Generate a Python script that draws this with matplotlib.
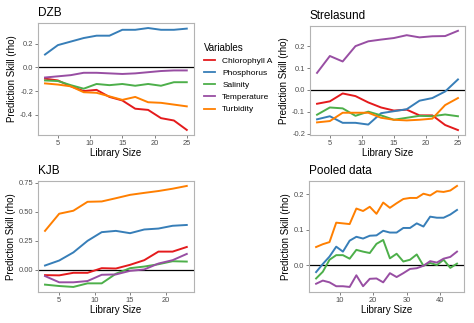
import matplotlib.pyplot as plt
from matplotlib.lines import Line2D

plt.rcParams['font.family'] = ['Liberation Sans', 'DejaVu Sans']

# colours (ColorBrewer Set1)
colors = {
    'Chlorophyll A': '#E41A1C',
    'Phosphorus': '#377EB8',
    'Salinity': '#4DAF4A',
    'Temperature': '#984EA3',
    'Turbidity': '#FF7F00',
}

# DZB
dzb_x = [3, 5, 7, 9, 11, 13, 15, 17, 19, 21, 23, 25]
dzb_chl = [-0.095, -0.11, -0.16, -0.20, -0.19, -0.25, -0.28, -0.35, -0.36, -0.43, -0.45, -0.53]
dzb_pho = [0.11, 0.19, 0.22, 0.25, 0.27, 0.27, 0.32, 0.32, 0.335, 0.32, 0.32, 0.33]
dzb_sal = [-0.11, -0.115, -0.15, -0.18, -0.14, -0.15, -0.14, -0.155, -0.14, -0.155, -0.125, -0.125]
dzb_tem = [-0.085, -0.075, -0.065, -0.045, -0.045, -0.05, -0.055, -0.05, -0.04, -0.03, -0.025, -0.025]
dzb_tur = [-0.135, -0.145, -0.16, -0.21, -0.215, -0.245, -0.275, -0.25, -0.295, -0.30, -0.315, -0.33]

# Strelasund
str_x = [3, 5, 7, 9, 11, 13, 15, 17, 19, 21, 23, 25]
str_chl = [-0.063, -0.052, -0.016, -0.028, -0.057, -0.08, -0.094, -0.09, -0.116, -0.116, -0.16, -0.183]
str_pho = [-0.134, -0.12, -0.15, -0.15, -0.158, -0.106, -0.097, -0.088, -0.049, -0.037, -0.007, 0.048]
str_sal = [-0.113, -0.08, -0.084, -0.118, -0.099, -0.116, -0.136, -0.127, -0.118, -0.12, -0.112, -0.12]
str_tem = [0.078, 0.155, 0.13, 0.20, 0.222, 0.23, 0.237, 0.25, 0.24, 0.245, 0.246, 0.27]
str_tur = [-0.148, -0.142, -0.104, -0.104, -0.104, -0.127, -0.136, -0.139, -0.136, -0.131, -0.069, -0.037]

# KJB
kjb_x = [3, 5, 7, 9, 11, 13, 15, 17, 19, 21, 23]
kjb_chl = [-0.046, -0.048, -0.026, -0.026, 0.014, 0.011, 0.043, 0.083, 0.157, 0.157, 0.197]
kjb_pho = [0.037, 0.08, 0.15, 0.25, 0.325, 0.336, 0.316, 0.348, 0.356, 0.38, 0.387]
kjb_sal = [-0.128, -0.14, -0.148, -0.117, -0.117, -0.034, 0.014, 0.028, 0.048, 0.074, 0.071]
kjb_tem = [-0.054, -0.108, -0.108, -0.097, -0.043, -0.04, -0.009, 0.003, 0.054, 0.083, 0.137]
kjb_tur = [0.336, 0.484, 0.51, 0.587, 0.59, 0.618, 0.647, 0.664, 0.68, 0.70, 0.724]

# Pooled data (no chlorophyll)
poo_x = list(range(3, 46, 2))
poo_pho = [-0.02, 0.003, 0.024, 0.052, 0.038, 0.069, 0.08, 0.075, 0.083, 0.084, 0.097,
           0.092, 0.092, 0.105, 0.105, 0.118, 0.109, 0.137, 0.134, 0.134, 0.143, 0.156]
poo_sal = [-0.038, -0.019, 0.015, 0.028, 0.028, 0.018, 0.043, 0.038, 0.034, 0.06, 0.071,
           0.019, 0.032, 0.01, 0.015, 0.03, -0.002, 0.006, 0.0, 0.015, -0.008, 0.004]
poo_tem = [-0.053, -0.044, -0.049, -0.06, -0.06, -0.062, -0.029, -0.06, -0.039, -0.038, -0.049,
           -0.023, -0.034, -0.023, -0.011, -0.009, -0.002, 0.011, 0.007, 0.018, 0.023, 0.038]
poo_tur = [0.051, 0.059, 0.065, 0.12, 0.118, 0.116, 0.16, 0.153, 0.165, 0.145, 0.177,
           0.162, 0.175, 0.187, 0.19, 0.19, 0.202, 0.197, 0.209, 0.207, 0.211, 0.224]

panels = [
    ('DZB', [0.080, 0.582, 0.329, 0.347], dzb_x,
     {'Chlorophyll A': dzb_chl, 'Phosphorus': dzb_pho, 'Salinity': dzb_sal,
      'Temperature': dzb_tem, 'Turbidity': dzb_tur},
     [-0.4, -0.2, 0.0, 0.2], ['-0.4', '-0.2', '0.0', '0.2'], [5, 10, 15, 20, 25]),
    ('Strelasund', [0.654, 0.582, 0.327, 0.338], str_x,
     {'Chlorophyll A': str_chl, 'Phosphorus': str_pho, 'Salinity': str_sal,
      'Temperature': str_tem, 'Turbidity': str_tur},
     [-0.2, -0.1, 0.0, 0.1, 0.2], ['-0.2', '-0.1', '0.0', '0.1', '0.2'], [5, 10, 15, 20, 25]),
    ('KJB', [0.080, 0.096, 0.329, 0.344], kjb_x,
     {'Chlorophyll A': kjb_chl, 'Phosphorus': kjb_pho, 'Salinity': kjb_sal,
      'Temperature': kjb_tem, 'Turbidity': kjb_tur},
     [0.0, 0.25, 0.5, 0.75], ['0.00', '0.25', '0.50', '0.75'], [5, 10, 15, 20]),
    ('Pooled data', [0.652, 0.096, 0.327, 0.344], poo_x,
     {'Phosphorus': poo_pho, 'Salinity': poo_sal,
      'Temperature': poo_tem, 'Turbidity': poo_tur},
     [0.0, 0.1, 0.2], ['0.0', '0.1', '0.2'], [10, 20, 30, 40]),
]

fig = plt.figure(figsize=(4.74, 3.23), dpi=100)

for title, rect, x, series, yt, ytl, xt in panels:
    ax = fig.add_axes(rect)
    ax.axhline(0, color='black', lw=0.9, zorder=1)
    for name, vals in series.items():
        ax.plot(x, vals, color=colors[name], lw=1.4, zorder=2)
    ax.set_xticks(xt)
    ax.set_yticks(yt)
    ax.set_yticklabels(ytl)
    ax.margins(x=0.05, y=0.05)
    ax.tick_params(labelsize=5.4, colors='#4D4D4D', length=2, width=0.5, pad=1.5)
    for s in ax.spines.values():
        s.set_color('#B3B3B3')
        s.set_linewidth(0.8)
    ax.set_xlabel('Library Size', fontsize=7, labelpad=1)
    ax.set_ylabel('Prediction Skill (rho)', fontsize=7, labelpad=2)
    ax.set_title(title, fontsize=8.5, loc='left', pad=5)

handles = [Line2D([], [], color=c, lw=1.3) for c in colors.values()]
fig.legend(handles, list(colors.keys()), title='Variables', loc='upper left',
           bbox_to_anchor=(0.430, 0.868), frameon=False, fontsize=6,
           title_fontsize=7, handlelength=1.4, labelspacing=0.52,
           handletextpad=0.8, alignment='left', borderpad=0, borderaxespad=0)

plt.savefig('out.png', dpi=100)
